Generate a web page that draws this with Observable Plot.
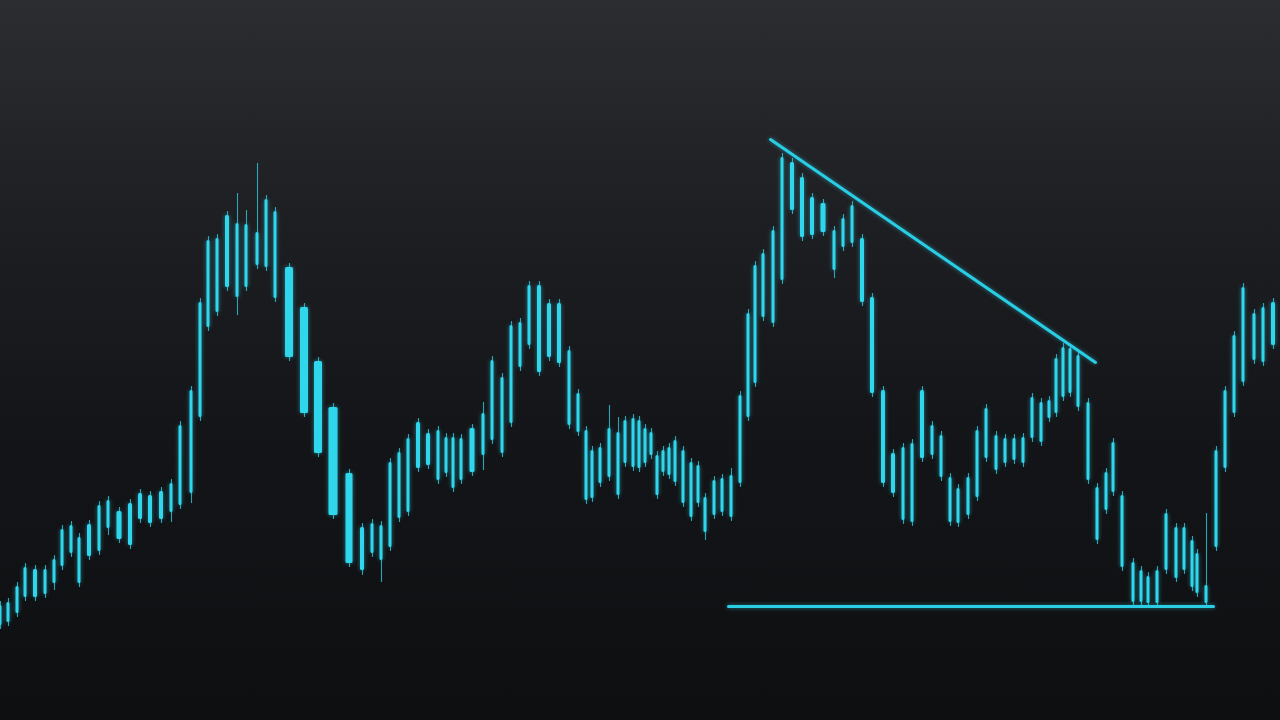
<!DOCTYPE html>
<html>
<head>
<meta charset="utf-8">
<script src="https://cdn.jsdelivr.net/npm/d3@7"></script>
<script src="https://cdn.jsdelivr.net/npm/@observablehq/plot@0.6"></script>
<style>
  html, body { margin: 0; padding: 0; width: 1280px; height: 720px; overflow: hidden;
    background: linear-gradient(to bottom, #2b2d31 0%, #1e1f23 30%, #141518 60%, #0e0f11 100%); }
  #chart svg { display: block; background: transparent !important; }
  #chart svg g[aria-label="rect"] { filter: drop-shadow(0 0 2px rgba(45, 215, 240, 0.55)); }
  #chart svg g[aria-label="line"] { filter: drop-shadow(0 0 2px rgba(45, 215, 240, 0.5)); }
</style>
</head>
<body>
<div id="chart"></div>
<script>
// Time index of each candle
const times = [
  0, 0.8, 1.7, 2.5, 3.5, 4.5, 5.4, 6.2, 7.1, 7.9,
  8.9, 9.9, 10.8, 11.9, 13.0, 14.0, 15.0, 16.1, 17.1, 18.0,
  19.1, 20.0, 20.8, 21.7, 22.7, 23.7, 24.6, 25.7, 26.6, 27.5,
  28.9, 30.4, 31.8, 33.3, 34.9, 36.2, 37.2, 38.1, 39.0, 39.9,
  40.8, 41.8, 42.8, 43.8, 44.6, 45.3, 46.1, 47.2, 48.3, 49.2,
  50.2, 51.1, 52.0, 52.9, 53.9, 54.9, 55.9, 56.9, 57.8, 58.6,
  59.2, 60.0, 60.9, 61.8, 62.5, 63.3, 63.9, 64.5, 65.1, 65.7,
  66.3, 66.9, 67.5, 68.3, 69.1, 69.8, 70.5, 71.4, 72.2, 73.1,
  74.0, 74.8, 75.5, 76.3, 77.3, 78.2, 79.2, 80.2, 81.2, 82.3,
  83.4, 84.3, 85.2, 86.2, 87.2, 88.3, 89.3, 90.3, 91.2, 92.2,
  93.2, 94.1, 95.0, 95.8, 96.8, 97.7, 98.6, 99.6, 100.5, 101.4,
  102.3, 103.2, 104.1, 104.9, 105.6, 106.3, 107.0, 107.8, 108.8, 109.7,
  110.6, 111.3, 112.2, 113.3, 114.1, 114.8, 115.7, 116.6, 117.6, 118.4,
  119.2, 119.7, 120.6, 121.6, 122.5, 123.4, 124.3, 125.4, 126.3, 127.3
];
const opens = [
  95, 98, 107, 123, 151, 126, 137, 154, 195, 183,
  164, 169, 220, 209, 175, 201, 225, 201, 208, 215,
  227, 303, 393, 482, 433, 497, 433, 488, 453, 509,
  453, 413, 359, 313, 247, 193, 167, 195, 173, 202,
  208, 252, 287, 290, 247, 283, 240, 248, 265, 280,
  343, 297, 398, 375, 435, 363, 417, 370, 327, 290,
  222, 237, 243, 288, 257, 302, 252, 292, 288, 265,
  248, 245, 238, 270, 258, 217, 223, 205, 242, 203,
  237, 303, 337, 467, 397, 440, 558, 543, 485, 517,
  490, 473, 477, 482, 423, 330, 267, 200, 277, 262,
  295, 285, 243, 197, 205, 223, 262, 285, 257, 282,
  257, 282, 318, 302, 307, 323, 372, 365, 318, 233,
  210, 228, 225, 158, 118, 144, 117, 150, 193, 150,
  180, 167, 117, 173, 252, 307, 338, 407, 358, 375
];
const closes = [
  115, 118, 134, 153, 123, 151, 161, 191, 167, 137,
  196, 215, 192, 181, 217, 227, 197, 229, 237, 295,
  330, 418, 480, 408, 505, 423, 496, 455, 521, 422,
  363, 307, 267, 205, 157, 150, 197, 160, 258, 268,
  282, 298, 255, 240, 283, 232, 282, 292, 307, 360,
  267, 395, 353, 435, 348, 417, 357, 295, 288, 220,
  270, 273, 292, 225, 300, 253, 300, 257, 265, 225,
  270, 273, 280, 217, 203, 255, 188, 240, 208, 245,
  325, 407, 455, 403, 490, 563, 510, 483, 523, 488,
  450, 502, 515, 418, 327, 237, 227, 273, 198, 330,
  265, 243, 198, 232, 243, 290, 312, 250, 282, 260,
  283, 323, 278, 320, 362, 373, 327, 313, 240, 180,
  248, 278, 153, 118, 150, 117, 150, 207, 142, 193,
  133, 127, 135, 270, 330, 385, 433, 360, 413, 418
];
const highs = [
  119, 122, 138, 157, 155, 155, 165, 195, 199, 187,
  200, 219, 224, 213, 221, 231, 229, 233, 241, 299,
  334, 422, 484, 486, 509, 527, 510, 557, 525, 513,
  457, 417, 363, 317, 251, 197, 201, 199, 262, 272,
  286, 302, 291, 294, 287, 287, 286, 296, 318, 364,
  347, 399, 402, 439, 439, 421, 421, 374, 331, 294,
  274, 277, 315, 303, 304, 306, 304, 296, 292, 269,
  274, 277, 284, 274, 262, 259, 227, 244, 246, 252,
  329, 411, 459, 471, 494, 567, 562, 547, 527, 521,
  494, 506, 519, 486, 427, 334, 271, 277, 281, 334,
  299, 289, 247, 236, 247, 294, 316, 289, 286, 286,
  287, 327, 322, 324, 366, 377, 376, 369, 322, 237,
  252, 282, 229, 162, 154, 148, 154, 211, 197, 197,
  184, 171, 207, 274, 334, 389, 437, 411, 417, 422
];
const lows = [
  91, 94, 103, 119, 119, 122, 130, 150, 163, 133,
  160, 165, 185, 177, 171, 197, 193, 197, 198, 211,
  217, 299, 389, 404, 429, 405, 429, 451, 449, 418,
  359, 303, 263, 201, 153, 145, 163, 138, 169, 198,
  204, 248, 251, 236, 243, 228, 236, 244, 250, 276,
  263, 293, 349, 371, 344, 359, 353, 291, 284, 216,
  218, 233, 239, 221, 253, 249, 248, 253, 261, 221,
  244, 241, 234, 213, 199, 213, 180, 201, 204, 199,
  233, 299, 333, 399, 393, 436, 506, 479, 481, 484,
  442, 469, 473, 414, 323, 233, 223, 196, 194, 258,
  261, 239, 194, 193, 201, 219, 258, 246, 253, 256,
  253, 278, 274, 298, 303, 319, 323, 309, 236, 176,
  206, 224, 149, 114, 114, 114, 114, 146, 138, 146,
  129, 123, 114, 169, 248, 303, 334, 356, 354, 371
];

// Drawn trend lines (time, price)
const resistanceTimes = [77.0, 109.5];
const resistancePrices = [581, 358];
const supportTimes = [72.8, 121.3];
const supportPrices = [114, 114];

const candles = times.map((t, i) => {
  const prev = i > 0 ? t - times[i - 1] : times[i + 1] - t;
  const next = i < times.length - 1 ? times[i + 1] - t : prev;
  const w = Math.max(0.3, Math.min(prev, next) - 0.6);
  return {t, x1: t - w / 2, x2: t + w / 2, open: opens[i], close: closes[i], high: highs[i], low: lows[i]};
});
const resistance = resistanceTimes.map((t, i) => ({t, p: resistancePrices[i]}));
const support = supportTimes.map((t, i) => ({t, p: supportPrices[i]}));

const cyan = "#2fd6ec";
const chart = Plot.plot({
  width: 1280,
  height: 720,
  margin: 0,
  style: {background: "transparent"},
  x: {domain: [0, 128], axis: null},
  y: {domain: [0, 720], axis: null},
  marks: [
    Plot.ruleX(candles, {x: "t", y1: "low", y2: "high", stroke: cyan, strokeWidth: 1.1, strokeOpacity: 0.75}),
    Plot.rect(candles, {x1: "x1", x2: "x2", y1: "open", y2: "close", fill: cyan, rx: 1.5}),
    Plot.line(resistance, {x: "t", y: "p", stroke: "#29cde4", strokeWidth: 3}),
    Plot.line(support, {x: "t", y: "p", stroke: "#29cde4", strokeWidth: 3})
  ]
});
document.getElementById("chart").appendChild(chart);
</script>
</body>
</html>
